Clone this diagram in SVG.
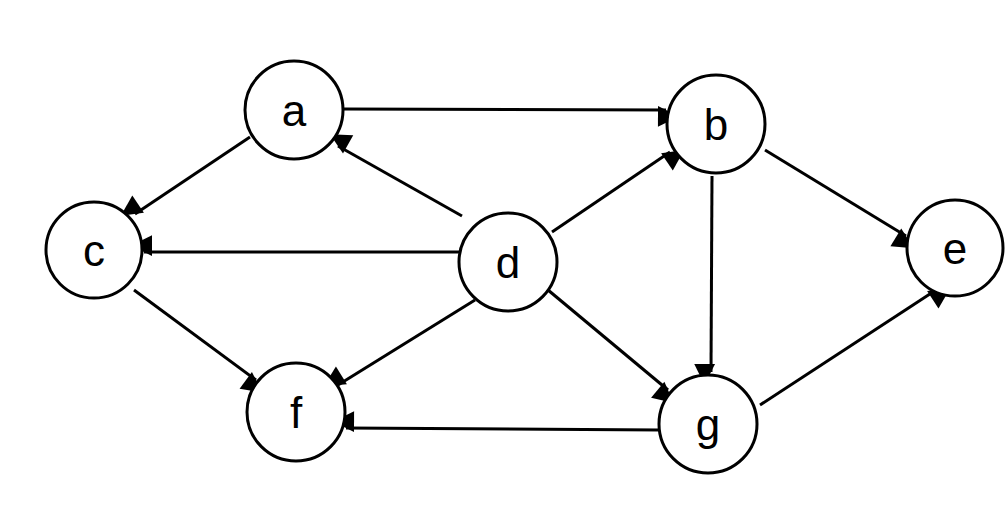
<svg xmlns="http://www.w3.org/2000/svg" width="1008" height="519" viewBox="0 0 1008 519">
<style>
.n circle{fill:#fff;stroke:#000;stroke-width:3}
.n text{font-family:"Liberation Sans",Arial,sans-serif;font-size:44px;text-anchor:middle;fill:#000}
#edges line{stroke:#000;stroke-width:3;marker-end:url(#ar)}
</style>
<defs><marker id="ar" viewBox="0 0 10 10" refX="10" refY="5" markerWidth="8" markerHeight="8" orient="auto" markerUnits="userSpaceOnUse" style="overflow:visible"><path d="M0,0 L10,5 L0,10 z" transform="scale(2.6) translate(-6,-5) translate(6,5)" fill="#000"/></marker></defs>
<rect width="1008" height="519" fill="#fff"/>
<g id="edges">
<line x1="344" y1="109" x2="666" y2="110"/>
<line x1="250" y1="137" x2="135" y2="214"/>
<line x1="462" y1="216" x2="338" y2="146"/>
<line x1="460" y1="252" x2="144" y2="252"/>
<line x1="552" y1="232" x2="670" y2="152"/>
<line x1="765" y1="150" x2="906" y2="236"/>
<line x1="712" y1="176" x2="711" y2="372"/>
<line x1="475" y1="300" x2="338" y2="385"/>
<line x1="548" y1="290" x2="668" y2="390"/>
<line x1="134" y1="290" x2="256" y2="380"/>
<line x1="660" y1="430" x2="346" y2="428"/>
<line x1="760" y1="405" x2="936" y2="290"/>
</g>
<g id="a" class="n"><circle cx="294" cy="110" r="49"/><text x="294" y="126">a</text></g>
<g id="b" class="n"><circle cx="716" cy="124" r="49"/><text x="716" y="140">b</text></g>
<g id="c" class="n"><circle cx="94" cy="250" r="48"/><text x="94" y="266">c</text></g>
<g id="d" class="n"><circle cx="508" cy="262" r="49"/><text x="508" y="278">d</text></g>
<g id="e" class="n"><circle cx="955" cy="248" r="48"/><text x="955" y="264">e</text></g>
<g id="f" class="n"><circle cx="296" cy="412" r="49"/><text x="296" y="428">f</text></g>
<g id="g" class="n"><circle cx="708" cy="424" r="49"/><text x="708" y="440">g</text></g>
</svg>
